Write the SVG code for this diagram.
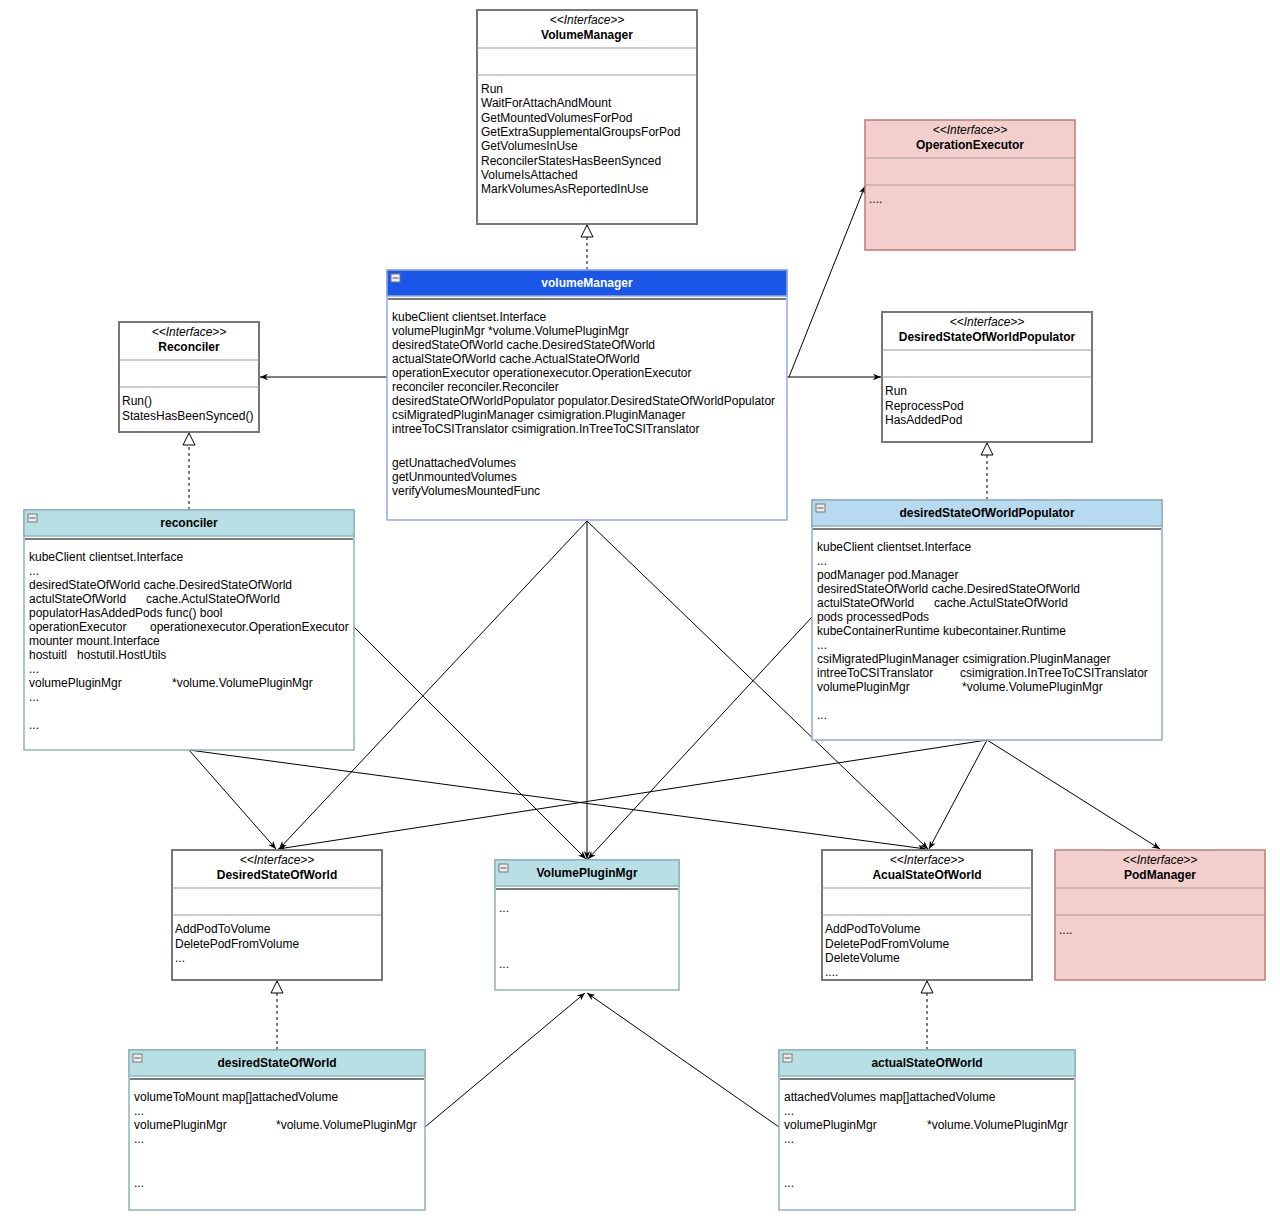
<svg xmlns="http://www.w3.org/2000/svg" width="1280" height="1224" viewBox="0 0 1280 1224">
<style>
text{font-family:"Liberation Sans",Arial,Helvetica,sans-serif;font-size:12px;fill:#000}
.it{font-style:italic;text-anchor:middle}
.b{font-weight:bold;text-anchor:middle}
.wb{font-weight:bold;text-anchor:middle;fill:#fff}
.iface{fill:#fff;stroke:#777;stroke-width:2}
.red{fill:#f2cfcd;stroke:#c07a76;stroke-width:1.5}
.div{stroke:#999;stroke-width:1}
.rdiv{stroke:#a89a99;stroke-width:1}
.body{fill:#fff;stroke:#8fb4bc;stroke-width:1.5}
.bbody{fill:#fff;stroke:#93a9e6;stroke-width:1.5}
.sep{stroke:#7a7a7a;stroke-width:2}
.hdT{fill:#b8e0e4;stroke:#8fb4bc;stroke-width:1.5}
.hdB{fill:#b8daee;stroke:#8fb0c6;stroke-width:1.5}
.hdV{fill:#1a56e8;stroke:#93a9e6;stroke-width:1.5}
.mn{fill:#eee;stroke:#777;stroke-width:1}
.c{fill:none;stroke:#000;stroke-width:1}
.d{fill:none;stroke:#000;stroke-width:1;stroke-dasharray:3 3}
</style>
<defs>
<marker id="arr" viewBox="0 0 10 10" refX="10" refY="5" markerWidth="8" markerHeight="8" orient="auto" markerUnits="userSpaceOnUse">
<path d="M0,1 L10,5 L0,9 L3,5 z" fill="#000"/>
</marker>
<marker id="tri" viewBox="0 0 14 14" refX="13" refY="7" markerWidth="14" markerHeight="14" orient="auto" markerUnits="userSpaceOnUse">
<path d="M1,1 L13,7 L1,13 z" fill="#fff" stroke="#000" stroke-width="1"/>
</marker>
</defs>
<rect width="1280" height="1224" fill="#fff"/>

<g id="connectors">
<path class="d" d="M587,270 L587,225" marker-end="url(#tri)"/>
<path class="d" d="M189,510 L189,433" marker-end="url(#tri)"/>
<path class="d" d="M987,500 L987,443" marker-end="url(#tri)"/>
<path class="d" d="M277,1050 L277,981" marker-end="url(#tri)"/>
<path class="d" d="M927,1050 L927,981" marker-end="url(#tri)"/>
<path class="c" d="M387,377 L260,377" marker-end="url(#arr)"/>
<path class="c" d="M787,377 L881,377" marker-end="url(#arr)"/>
<path class="c" d="M789,377 L865,186" marker-end="url(#arr)"/>
<path class="c" d="M587,521 L279,849" marker-end="url(#arr)"/>
<path class="c" d="M587,521 L587,859" marker-end="url(#arr)"/>
<path class="c" d="M587,521 L928,849" marker-end="url(#arr)"/>
<path class="c" d="M354,627 L586,859" marker-end="url(#arr)"/>
<path class="c" d="M189,750 L276,849" marker-end="url(#arr)"/>
<path class="c" d="M189,750 L926,849" marker-end="url(#arr)"/>
<path class="c" d="M812,617 L588,859" marker-end="url(#arr)"/>
<path class="c" d="M987,740 L278,849" marker-end="url(#arr)"/>
<path class="c" d="M987,740 L929,849" marker-end="url(#arr)"/>
<path class="c" d="M987,740 L1160,849" marker-end="url(#arr)"/>
<path class="c" d="M425,1127 L585,993" marker-end="url(#arr)"/>
<path class="c" d="M779,1127 L587,993" marker-end="url(#arr)"/>
</g>

<g id="VolumeManager">
<rect class="iface" x="477" y="10" width="220" height="214"/>
<line class="div" x1="477" y1="48" x2="697" y2="48"/>
<line class="div" x1="477" y1="75" x2="697" y2="75"/>
<text class="it" x="587" y="24">&lt;&lt;Interface&gt;&gt;</text>
<text class="b" x="587" y="39">VolumeManager</text>
<text x="481" y="93">Run</text>
<text x="481" y="107">WaitForAttachAndMount</text>
<text x="481" y="122">GetMountedVolumesForPod</text>
<text x="481" y="136">GetExtraSupplementalGroupsForPod</text>
<text x="481" y="150">GetVolumesInUse</text>
<text x="481" y="165">ReconcilerStatesHasBeenSynced</text>
<text x="481" y="179">VolumeIsAttached</text>
<text x="481" y="193">MarkVolumesAsReportedInUse</text>
</g>

<g id="OperationExecutor">
<rect class="red" x="865" y="120" width="210" height="130"/>
<line class="rdiv" x1="865" y1="158" x2="1075" y2="158"/>
<line class="rdiv" x1="865" y1="185" x2="1075" y2="185"/>
<text class="it" x="970" y="134">&lt;&lt;Interface&gt;&gt;</text>
<text class="b" x="970" y="149">OperationExecutor</text>
<text x="869" y="203">....</text>
</g>

<g id="volumeManager">
<rect class="bbody" x="387" y="270" width="400" height="250"/>
<rect class="hdV" x="387" y="270" width="400" height="26"/>
<line class="sep" x1="388" y1="299" x2="786" y2="299"/>
<rect class="mn" x="391" y="274" width="9" height="8"/>
<line x1="392.5" y1="278" x2="398.5" y2="278" stroke="#555" stroke-width="1"/>
<text class="wb" x="587" y="287">volumeManager</text>
<text x="392" y="321">kubeClient clientset.Interface</text>
<text x="392" y="335">volumePluginMgr *volume.VolumePluginMgr</text>
<text x="392" y="349">desiredStateOfWorld cache.DesiredStateOfWorld</text>
<text x="392" y="363">actualStateOfWorld cache.ActualStateOfWorld</text>
<text x="392" y="377">operationExecutor operationexecutor.OperationExecutor</text>
<text x="392" y="391">reconciler reconciler.Reconciler</text>
<text x="392" y="405">desiredStateOfWorldPopulator populator.DesiredStateOfWorldPopulator</text>
<text x="392" y="419">csiMigratedPluginManager csimigration.PluginManager</text>
<text x="392" y="433">intreeToCSITranslator csimigration.InTreeToCSITranslator</text>
<text x="392" y="467">getUnattachedVolumes</text>
<text x="392" y="481">getUnmountedVolumes</text>
<text x="392" y="495">verifyVolumesMountedFunc</text>
</g>

<g id="Reconciler">
<rect class="iface" x="119" y="322" width="140" height="110"/>
<line class="div" x1="119" y1="360" x2="259" y2="360"/>
<line class="div" x1="119" y1="387" x2="259" y2="387"/>
<text class="it" x="189" y="336">&lt;&lt;Interface&gt;&gt;</text>
<text class="b" x="189" y="351">Reconciler</text>
<text x="122" y="405">Run()</text>
<text x="122" y="420">StatesHasBeenSynced()</text>
</g>

<g id="DesiredStateOfWorldPopulator">
<rect class="iface" x="882" y="312" width="210" height="130"/>
<line class="div" x1="882" y1="350" x2="1092" y2="350"/>
<line class="div" x1="882" y1="377" x2="1092" y2="377"/>
<text class="it" x="987" y="326">&lt;&lt;Interface&gt;&gt;</text>
<text class="b" x="987" y="341">DesiredStateOfWorldPopulator</text>
<text x="885" y="395">Run</text>
<text x="885" y="410">ReprocessPod</text>
<text x="885" y="424">HasAddedPod</text>
</g>

<g id="reconciler">
<rect class="body" x="24" y="510" width="330" height="240"/>
<rect class="hdT" x="24" y="510" width="330" height="26"/>
<line class="sep" x1="25" y1="539" x2="353" y2="539"/>
<rect class="mn" x="28" y="514" width="9" height="8"/>
<line x1="29.5" y1="518" x2="35.5" y2="518" stroke="#555" stroke-width="1"/>
<text class="b" x="189" y="527">reconciler</text>
<text x="29" y="561">kubeClient clientset.Interface</text>
<text x="29" y="575">...</text>
<text x="29" y="589">desiredStateOfWorld cache.DesiredStateOfWorld</text>
<text x="29" y="603">actulStateOfWorld<tspan x="146">cache.ActulStateOfWorld</tspan></text>
<text x="29" y="617">populatorHasAddedPods func() bool</text>
<text x="29" y="631">operationExecutor<tspan x="150">operationexecutor.OperationExecutor</tspan></text>
<text x="29" y="645">mounter mount.Interface</text>
<text x="29" y="659">hostuitl<tspan x="77">hostutil.HostUtils</tspan></text>
<text x="29" y="673">...</text>
<text x="29" y="687">volumePluginMgr<tspan x="172">*volume.VolumePluginMgr</tspan></text>
<text x="29" y="701">...</text>
<text x="29" y="729">...</text>
</g>

<g id="desiredStateOfWorldPopulator">
<rect class="body" x="812" y="500" width="350" height="240" style="stroke:#8fb0c6"/>
<rect class="hdB" x="812" y="500" width="350" height="26"/>
<line class="sep" x1="813" y1="529" x2="1161" y2="529"/>
<rect class="mn" x="816" y="504" width="9" height="8"/>
<line x1="817.5" y1="508" x2="823.5" y2="508" stroke="#555" stroke-width="1"/>
<text class="b" x="987" y="517">desiredStateOfWorldPopulator</text>
<text x="817" y="551">kubeClient clientset.Interface</text>
<text x="817" y="565">...</text>
<text x="817" y="579">podManager pod.Manager</text>
<text x="817" y="593">desiredStateOfWorld cache.DesiredStateOfWorld</text>
<text x="817" y="607">actulStateOfWorld<tspan x="934">cache.ActulStateOfWorld</tspan></text>
<text x="817" y="621">pods processedPods</text>
<text x="817" y="635">kubeContainerRuntime kubecontainer.Runtime</text>
<text x="817" y="649">...</text>
<text x="817" y="663">csiMigratedPluginManager csimigration.PluginManager</text>
<text x="817" y="677">intreeToCSITranslator<tspan x="960">csimigration.InTreeToCSITranslator</tspan></text>
<text x="817" y="691">volumePluginMgr<tspan x="962">*volume.VolumePluginMgr</tspan></text>
<text x="817" y="719">...</text>
</g>

<g id="DesiredStateOfWorld">
<rect class="iface" x="172" y="850" width="210" height="130"/>
<line class="div" x1="172" y1="888" x2="382" y2="888"/>
<line class="div" x1="172" y1="915" x2="382" y2="915"/>
<text class="it" x="277" y="864">&lt;&lt;Interface&gt;&gt;</text>
<text class="b" x="277" y="879">DesiredStateOfWorld</text>
<text x="175" y="933">AddPodToVolume</text>
<text x="175" y="948">DeletePodFromVolume</text>
<text x="175" y="962">...</text>
</g>

<g id="VolumePluginMgr">
<rect class="body" x="495" y="860" width="184" height="130"/>
<rect class="hdT" x="495" y="860" width="184" height="26"/>
<line class="sep" x1="496" y1="889" x2="678" y2="889"/>
<rect class="mn" x="499" y="864" width="9" height="8"/>
<line x1="500.5" y1="868" x2="506.5" y2="868" stroke="#555" stroke-width="1"/>
<text class="b" x="587" y="877">VolumePluginMgr</text>
<text x="499" y="912">...</text>
<text x="499" y="968">...</text>
</g>

<g id="AcualStateOfWorld">
<rect class="iface" x="822" y="850" width="210" height="130"/>
<line class="div" x1="822" y1="888" x2="1032" y2="888"/>
<line class="div" x1="822" y1="915" x2="1032" y2="915"/>
<text class="it" x="927" y="864">&lt;&lt;Interface&gt;&gt;</text>
<text class="b" x="927" y="879">AcualStateOfWorld</text>
<text x="825" y="933">AddPodToVolume</text>
<text x="825" y="948">DeletePodFromVolume</text>
<text x="825" y="962">DeleteVolume</text>
<text x="825" y="976">....</text>
</g>

<g id="PodManager">
<rect class="red" x="1055" y="850" width="210" height="130"/>
<line class="rdiv" x1="1055" y1="888" x2="1265" y2="888"/>
<line class="rdiv" x1="1055" y1="915" x2="1265" y2="915"/>
<text class="it" x="1160" y="864">&lt;&lt;Interface&gt;&gt;</text>
<text class="b" x="1160" y="879">PodManager</text>
<text x="1059" y="934">....</text>
</g>

<g id="desiredStateOfWorld">
<rect class="body" x="129" y="1050" width="296" height="160"/>
<rect class="hdT" x="129" y="1050" width="296" height="26"/>
<line class="sep" x1="130" y1="1079" x2="424" y2="1079"/>
<rect class="mn" x="133" y="1054" width="9" height="8"/>
<line x1="134.5" y1="1058" x2="140.5" y2="1058" stroke="#555" stroke-width="1"/>
<text class="b" x="277" y="1067">desiredStateOfWorld</text>
<text x="134" y="1101">volumeToMount map[]attachedVolume</text>
<text x="134" y="1115">...</text>
<text x="134" y="1129">volumePluginMgr<tspan x="276">*volume.VolumePluginMgr</tspan></text>
<text x="134" y="1143">...</text>
<text x="134" y="1187">...</text>
</g>

<g id="actualStateOfWorld">
<rect class="body" x="779" y="1050" width="296" height="160"/>
<rect class="hdT" x="779" y="1050" width="296" height="26"/>
<line class="sep" x1="780" y1="1079" x2="1074" y2="1079"/>
<rect class="mn" x="783" y="1054" width="9" height="8"/>
<line x1="784.5" y1="1058" x2="790.5" y2="1058" stroke="#555" stroke-width="1"/>
<text class="b" x="927" y="1067">actualStateOfWorld</text>
<text x="784" y="1101">attachedVolumes map[]attachedVolume</text>
<text x="784" y="1115">...</text>
<text x="784" y="1129">volumePluginMgr<tspan x="927">*volume.VolumePluginMgr</tspan></text>
<text x="784" y="1143">...</text>
<text x="784" y="1187">...</text>
</g>
</svg>
